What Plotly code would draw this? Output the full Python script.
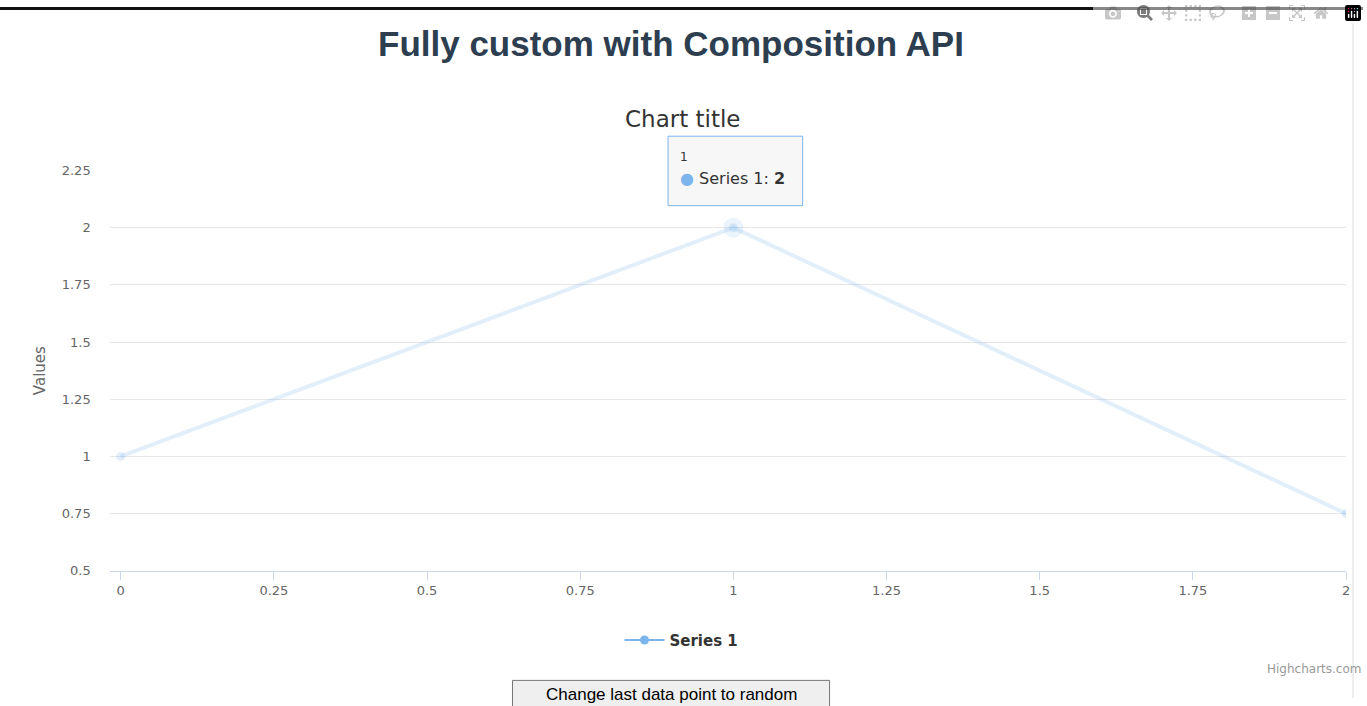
import plotly.graph_objects as go

# --- data ---
x_vals = [0, 1, 2]
y_vals = [1, 2, 0.75]
series_name = "Series 1"
x_ticks = [0, 0.25, 0.5, 0.75, 1, 1.25, 1.5, 1.75, 2]
x_labels = ["0", "0.25", "0.5", "0.75", "1", "1.25", "1.5", "1.75", "2"]
y_ticks = [0.5, 0.75, 1, 1.25, 1.5, 1.75, 2, 2.25]
y_labels = ["0.5", "0.75", "1", "1.25", "1.5", "1.75", "2", "2.25"]
hover_idx = 1

W, H = 1367, 706
def px(v): return v / W
def py(v): return 1 - v / H

font = "DejaVu Sans, sans-serif"

fig = go.Figure()
# faded series (inactive state while hovering)
fig.add_trace(go.Scatter(
    x=x_vals, y=y_vals, mode="lines+markers", showlegend=False,
    line=dict(color="rgba(124,181,236,0.22)", width=4),
    marker=dict(color="rgba(124,181,236,0.22)", size=9),
    hoverinfo="skip"))
# hovered point halo
fig.add_trace(go.Scatter(
    x=[x_vals[hover_idx]], y=[y_vals[hover_idx]], mode="markers", showlegend=False,
    marker=dict(color="rgba(124,181,236,0.15)", size=20), hoverinfo="skip"))
# legend entry
fig.add_trace(go.Scatter(
    x=[None], y=[None], mode="lines+markers", name="<b>" + series_name + "</b>",
    line=dict(color="#7cb5ec", width=2), marker=dict(color="#7cb5ec", size=9)))

fig.update_layout(
    width=W, height=H, margin=dict(l=0, r=0, t=0, b=0),
    plot_bgcolor="white", paper_bgcolor="white",
    font=dict(family=font, color="#666666", size=13),
    xaxis=dict(domain=[px(110), px(1350)], range=[-0.018, 2], tickvals=x_ticks, ticktext=x_labels,
               showgrid=False, zeroline=False, showline=True, linecolor="#ccd6eb",
               ticks="outside", tickcolor="#ccd6eb", ticklen=8, anchor="y",
               tickfont=dict(size=13, color="#666666")),
    yaxis=dict(domain=[py(576), py(167)], range=[0.5, 2.25], tickvals=y_ticks, ticktext=y_labels,
               gridcolor="#e6e6e6", zeroline=False, showline=False,
               tickfont=dict(size=13, color="#666666"), ticklabelstandoff=18,
               title=dict(text="Values", font=dict(size=15, color="#666666"), standoff=12)),
    legend=dict(orientation="h", x=0.5, xanchor="center", y=py(647), yanchor="middle",
                font=dict(size=15, color="#333333", family=font), itemwidth=40),
    showlegend=True,
)

fig.add_shape(type="line", xref="paper", yref="paper", x0=0, x1=1, y0=py(1.5), y1=py(1.5),
              line=dict(color="#111111", width=3))
fig.add_annotation(text="<b>Fully custom with Composition API</b>", xref="paper", yref="paper",
                   x=px(673), y=py(37), yanchor="middle", showarrow=False,
                   font=dict(family="Liberation Sans, Arial, sans-serif", size=35, color="#2c3e50"))
fig.add_annotation(text="Chart title", xref="paper", yref="paper", x=px(685), y=py(114),
                   yanchor="middle", showarrow=False, font=dict(size=23, color="#333333"))
fig.add_annotation(text="Highcharts.com", xref="paper", yref="paper", x=px(1367), y=py(676),
                   xanchor="right", yanchor="middle", showarrow=False,
                   font=dict(size=12, color="#999999"))
# tooltip
fig.add_shape(type="rect", xref="paper", yref="paper", x0=px(670), x1=px(805), y0=py(203), y1=py(132),
              line=dict(color="#7cb5ec", width=1), fillcolor="rgba(247,247,247,0.95)")
fig.add_annotation(text=str(x_vals[hover_idx]), xref="paper", yref="paper", x=px(680), y=py(153),
                   xanchor="left", yanchor="middle", showarrow=False,
                   font=dict(size=12, color="#333333"))
fig.add_annotation(text="<span style='color:#7cb5ec'>●</span> " + series_name + ": <b>%g</b>" % y_vals[hover_idx],
                   xref="paper", yref="paper", x=px(680), y=py(175),
                   xanchor="left", yanchor="middle", showarrow=False,
                   font=dict(size=16, color="#333333"))
# button
fig.add_shape(type="rect", xref="paper", yref="paper", x0=px(514), x1=px(832), y0=py(720), y1=py(688),
              line=dict(color="#767676", width=1), fillcolor="#efefef")
fig.add_annotation(text="Change last data point to random", xref="paper", yref="paper",
                   x=px(673), y=py(702), yanchor="middle", showarrow=False,
                   font=dict(family="Liberation Sans, Arial", size=17, color="black"))
fig.add_shape(type="line", xref="paper", yref="paper", x0=px(1357), x1=px(1357), y0=0, y1=py(3),
              line=dict(color="#dddddd", width=1))

fig.write_html("out.html", post_script="document.body.style.margin='0';document.body.style.overflow='hidden';")
